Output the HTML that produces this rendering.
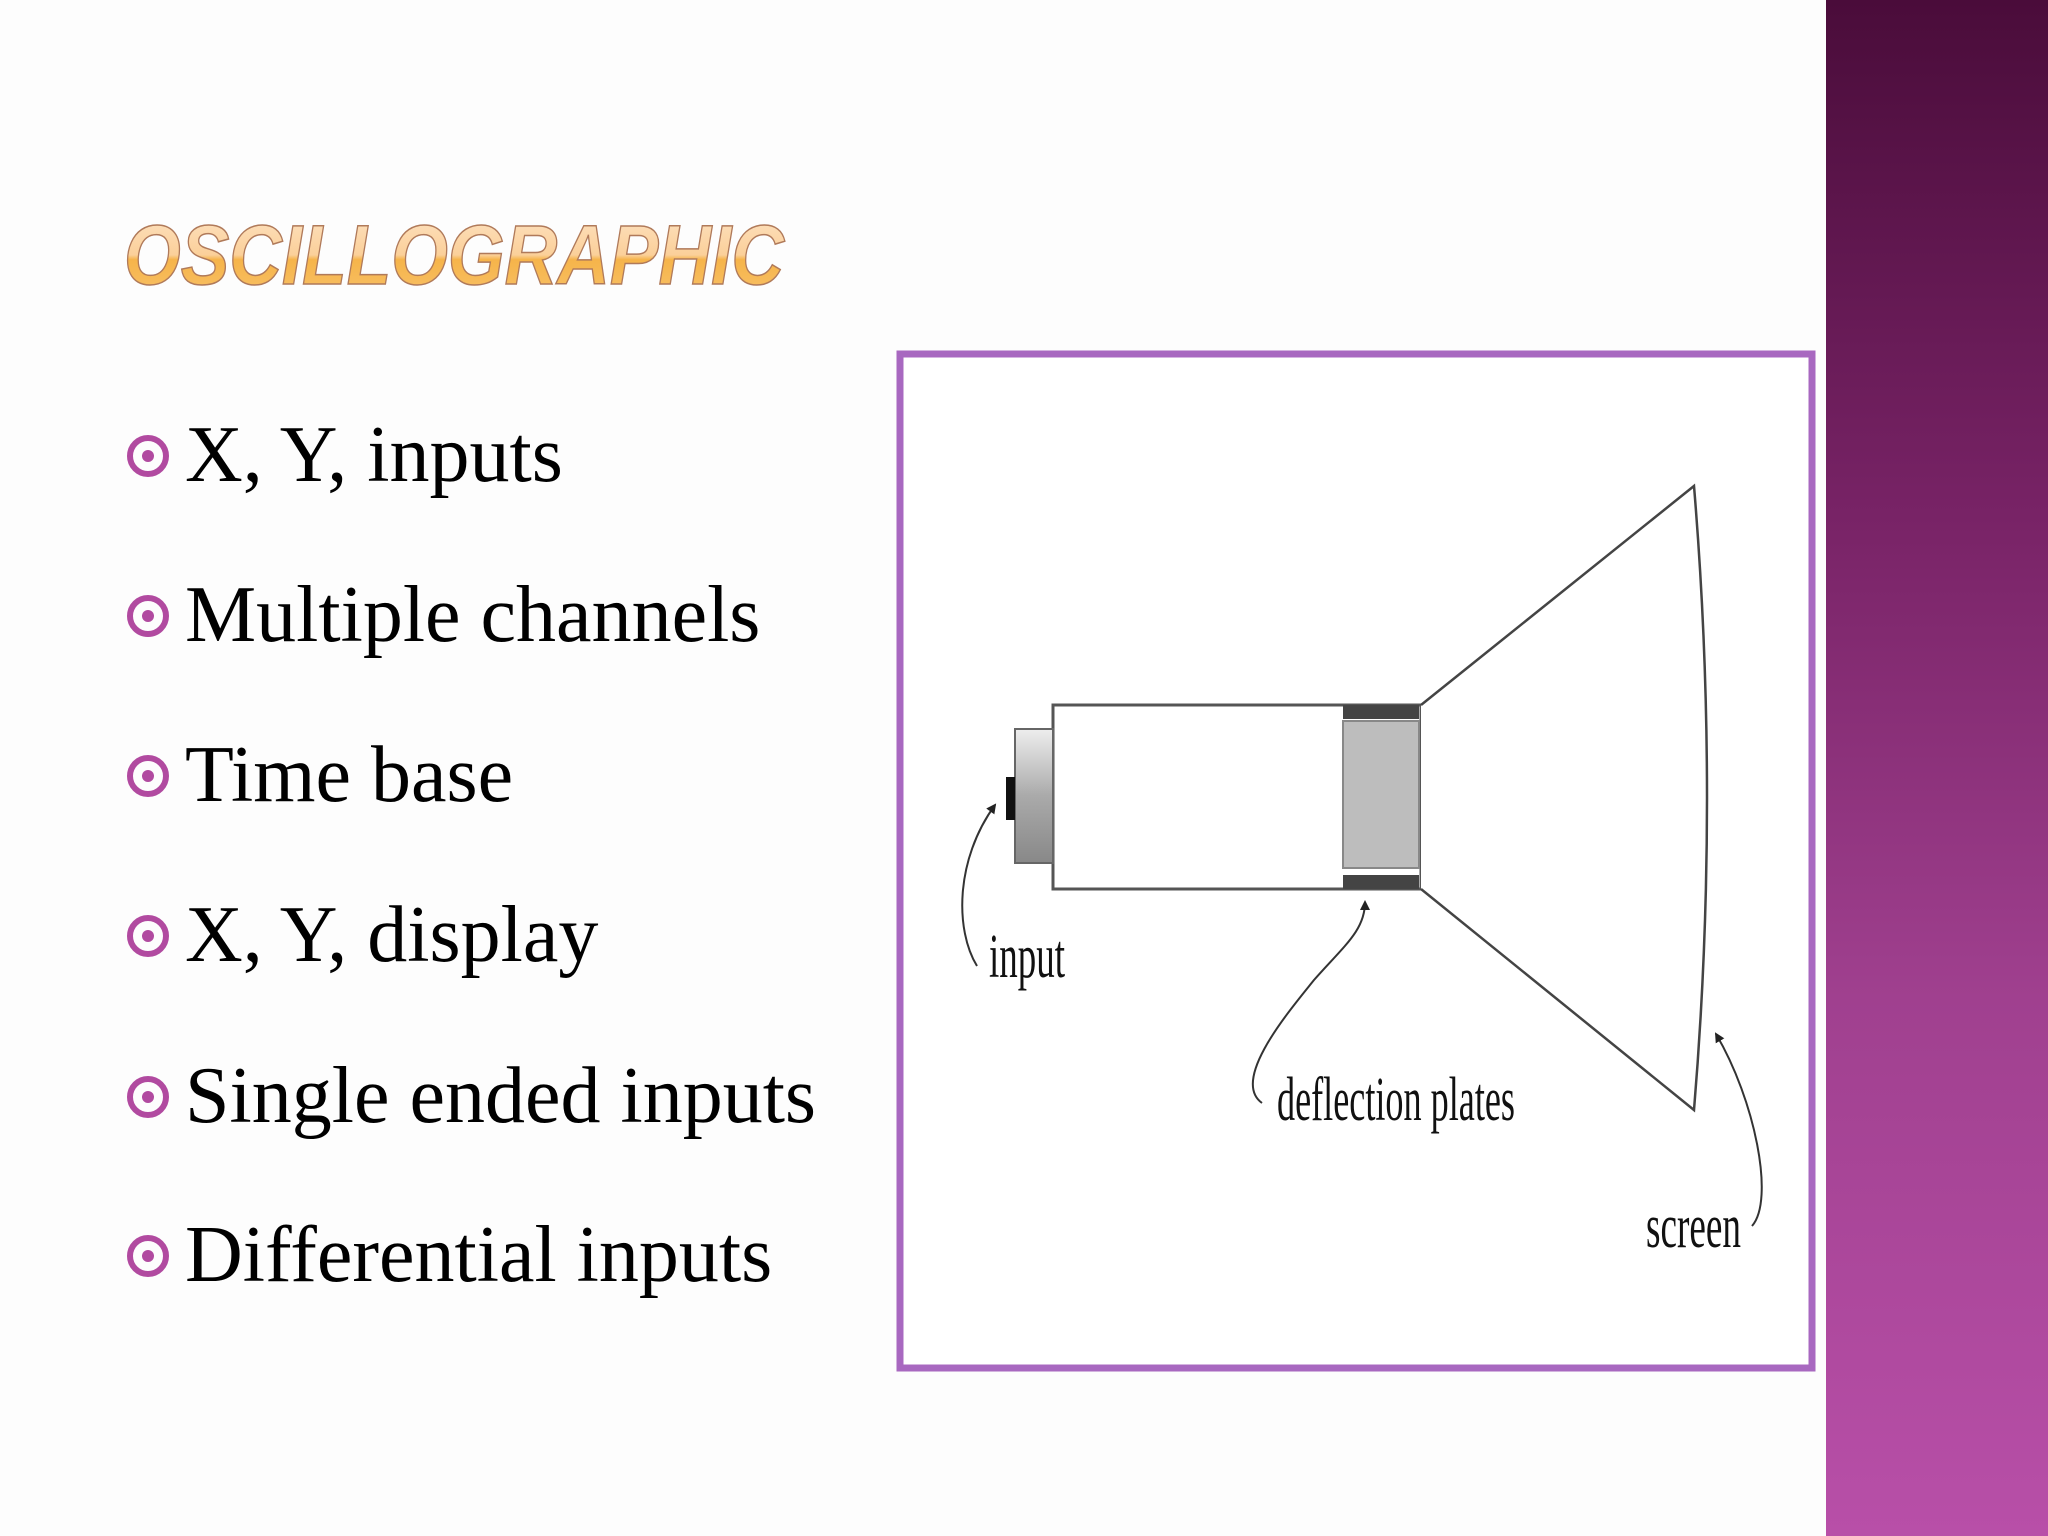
<!DOCTYPE html>
<html><head><style>
html,body{margin:0;padding:0}
body{width:2048px;height:1536px;position:relative;background:#fdfdfd;overflow:hidden;font-family:"Liberation Serif",serif}
.band{position:absolute;left:1826px;top:0;width:222px;height:1536px;background:linear-gradient(180deg,#4a0c3a 0%,#7a2468 35%,#a0408f 65%,#b84fa8 100%)}
.item{position:absolute;left:185px;font-size:80px;color:#000;line-height:1;white-space:nowrap}
.dot{position:absolute;left:127px;width:42px;height:42px;border:6px solid #b14aa0;border-radius:50%;box-sizing:border-box;margin-top:-6px}
.dot::after{content:"";position:absolute;left:9px;top:9px;width:12px;height:12px;background:#b14aa0;border-radius:50%}
</style></head><body>
<div class="band"></div>
<svg style="position:absolute;left:0;top:0" width="2048" height="1536">
<defs>
<linearGradient id="og" x1="0" y1="0" x2="0" y2="1">
<stop offset="0" stop-color="#fde3c4"/><stop offset="0.5" stop-color="#fbd09a"/><stop offset="0.55" stop-color="#f6b44a"/><stop offset="1" stop-color="#f8c26a"/></linearGradient>
<linearGradient id="cap" x1="0" y1="0" x2="0" y2="1"><stop offset="0" stop-color="#eee"/><stop offset="0.5" stop-color="#aaa"/><stop offset="1" stop-color="#888"/></linearGradient>
<marker id="ah" markerWidth="10" markerHeight="10" refX="8" refY="5" orient="auto" markerUnits="userSpaceOnUse"><path d="M0,0 L10,5 L0,10z" fill="#222"/></marker>
</defs>
<text x="124" y="284" font-family="Liberation Sans, sans-serif" font-style="italic" font-weight="bold" font-size="84" textLength="660" lengthAdjust="spacingAndGlyphs" fill="url(#og)" stroke="#b07a5a" stroke-width="1.5">OSCILLOGRAPHIC</text>
<rect x="900" y="354" width="912" height="1014" fill="#fff" stroke="#a868c0" stroke-width="7"/>
<rect x="1053" y="705" width="368" height="184" fill="#fff" stroke="#555" stroke-width="3"/>
<rect x="1015" y="729" width="38" height="134" fill="url(#cap)" stroke="#666" stroke-width="2"/>
<rect x="1006" y="777" width="9" height="43" fill="#111"/>
<rect x="1343" y="705" width="76" height="14" fill="#444"/>
<rect x="1343" y="721" width="76" height="147" fill="#bdbdbd" stroke="#888" stroke-width="2"/>
<rect x="1343" y="875" width="76" height="14" fill="#444"/>
<path d="M1421,705 L1694,486 Q1720,798 1694,1110 L1421,889" fill="#fff" stroke="#444" stroke-width="2.5"/>
<path d="M977,966 C955,930 955,860 995,805" fill="none" stroke="#333" stroke-width="2" marker-end="url(#ah)"/>
<path d="M1262,1103 C1230,1080 1290,1010 1314,980 C1345,945 1365,930 1365,902" fill="none" stroke="#333" stroke-width="2" marker-end="url(#ah)"/>
<path d="M1752,1226 C1775,1200 1755,1100 1716,1034" fill="none" stroke="#333" stroke-width="2" marker-end="url(#ah)"/>
<g font-family="Liberation Serif, serif" fill="#111">
<text x="989" y="977" font-size="62" textLength="76" lengthAdjust="spacingAndGlyphs">input</text>
<text x="1277" y="1120" font-size="62" textLength="238" lengthAdjust="spacingAndGlyphs">deflection plates</text>
<text x="1646" y="1247" font-size="62" textLength="95" lengthAdjust="spacingAndGlyphs">screen</text>
</g>
</svg>
<div class="dot" style="top:441px"></div><div class="item" style="top:415px">X, Y, inputs</div>
<div class="dot" style="top:601px"></div><div class="item" style="top:575px">Multiple channels</div>
<div class="dot" style="top:761px"></div><div class="item" style="top:735px">Time base</div>
<div class="dot" style="top:921px"></div><div class="item" style="top:895px">X, Y, display</div>
<div class="dot" style="top:1082px"></div><div class="item" style="top:1056px">Single ended inputs</div>
<div class="dot" style="top:1241px"></div><div class="item" style="top:1215px">Differential inputs</div>
</body></html>
